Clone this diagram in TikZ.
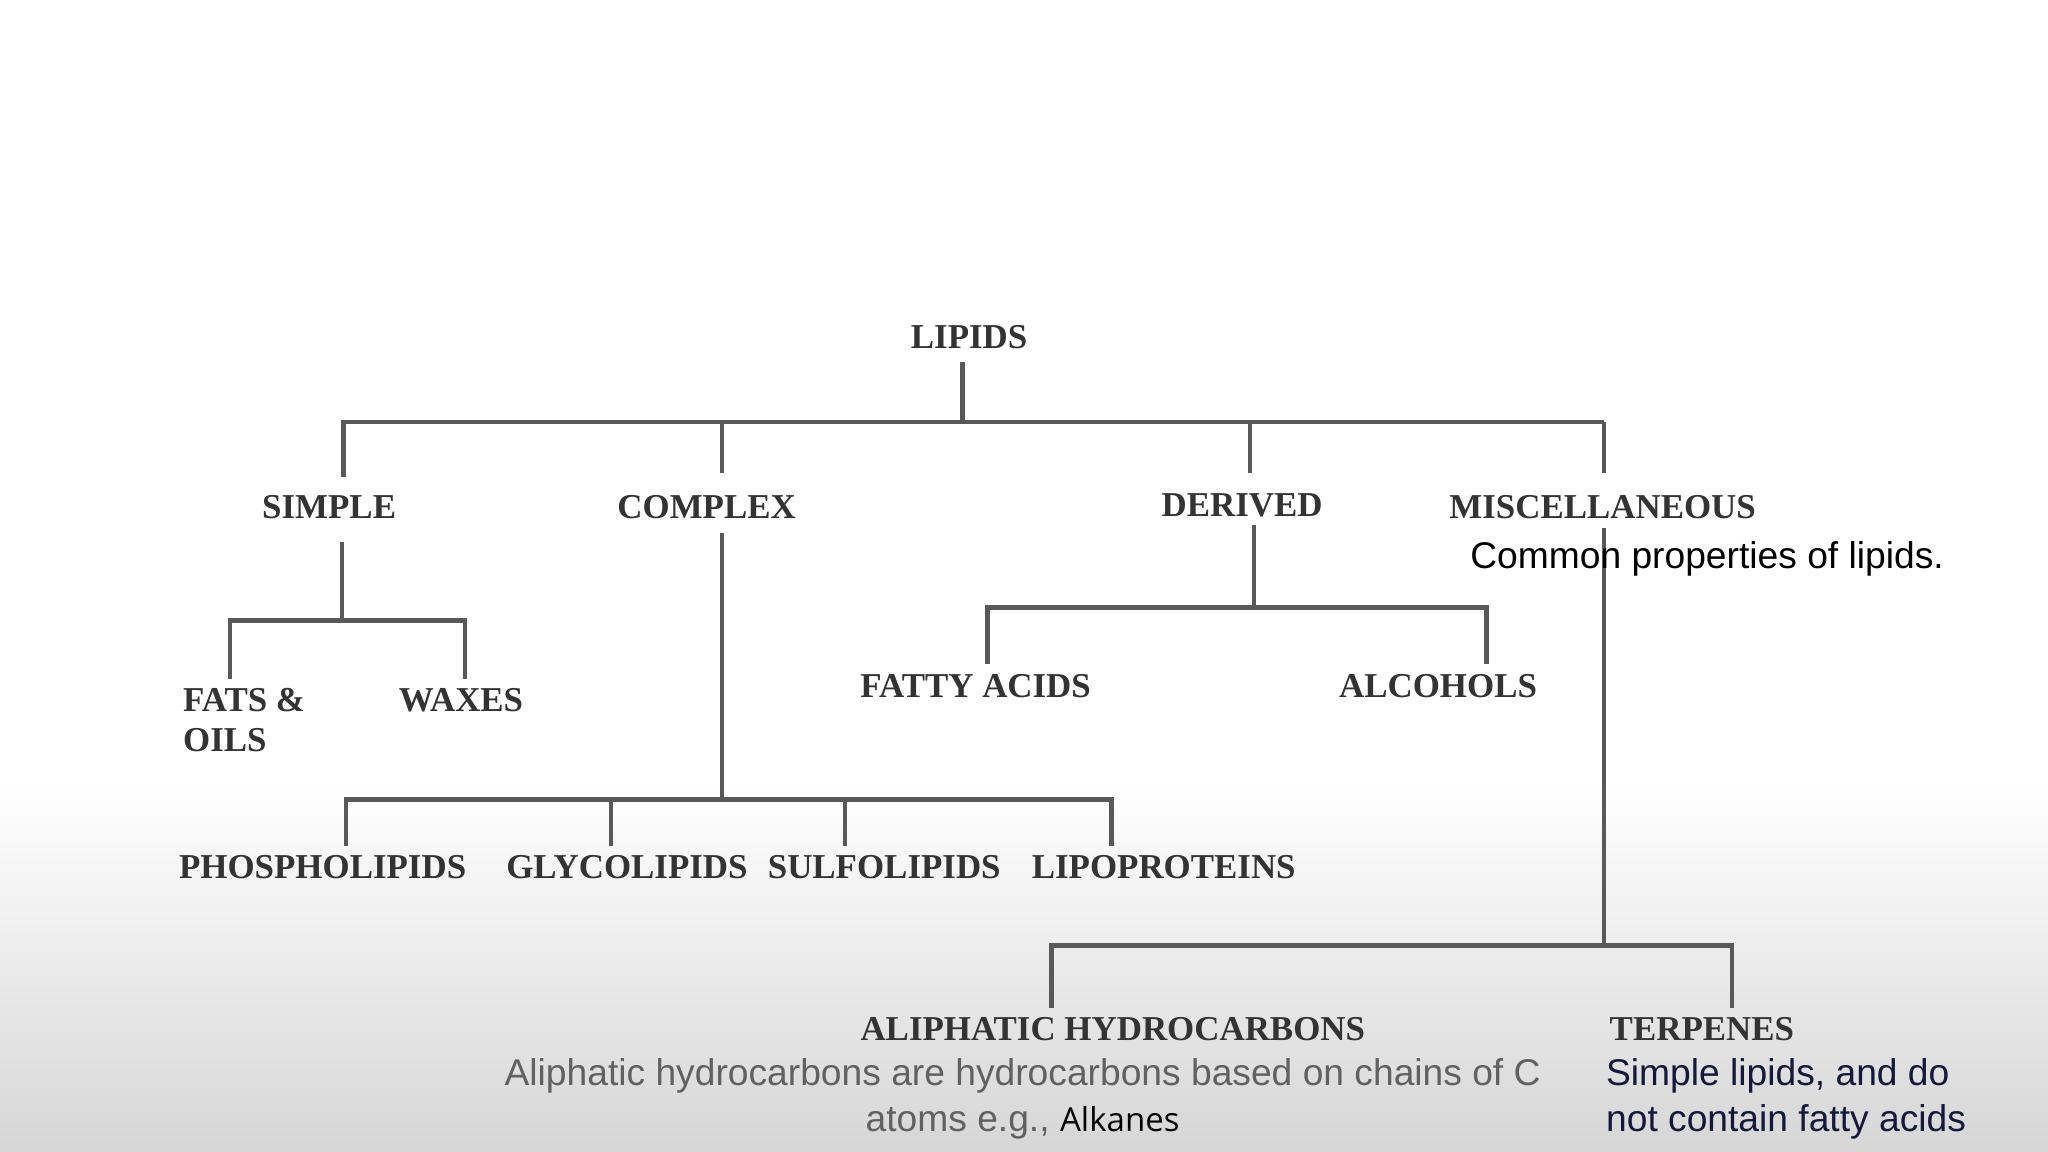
\documentclass[tikz,border=0pt]{standalone}
\usepackage{fontspec}
\setmainfont{Liberation Serif}
\newfontfamily\annot{Liberation Sans}
\newfontfamily\annotb{Open Sans}
\begin{document}
\begin{tikzpicture}[x=0.01cm,y=-0.01cm,
  lbl/.style={font=\bfseries\fontsize{7.6}{8.6}\selectfont, text=black!80, inner sep=1pt},
  ln/.style={draw=black!65, line width=0.95pt}]
\shade[top color=white,bottom color=white] (0,0) rectangle (1568,600);
\shade[top color=white,bottom color=black!16] (0,600) rectangle (1568,882);
\useasboundingbox (0,0) rectangle (1568,882);
\node[lbl] (lip) at (742,258) {LIPIDS};
\node[lbl] (sim) at (252,388) {SIMPLE};
\node[lbl] (com) at (541,388) {COMPLEX};
\node[lbl] (der) at (951,387) {DERIVED};
\node[lbl] (mis) at (1227,388) {MISCELLANEOUS};
\node[lbl,align=left,anchor=north west] (fat) at (136,523) {FATS \&\\[0pt]OILS};
\node[lbl] (wax) at (353,536) {WAXES};
\node[lbl] (pho) at (247,664) {PHOSPHOLIPIDS};
\node[lbl] (gly) at (480,664) {GLYCOLIPIDS};
\node[lbl] (sul) at (677,664) {SULFOLIPIDS};
\node[lbl] (lpp) at (891,664) {LIPOPROTEINS};
\node[lbl] (fac) at (747,525) {FATTY ACIDS};
\node[lbl] (alc) at (1101,525) {ALCOHOLS};
\node[lbl] (ali) at (852,788) {ALIPHATIC HYDROCARBONS};
\node[lbl] (ter) at (1303,788) {TERPENES};
% lipids
\coordinate (j0) at (737,323);
\draw[ln] (737,277) -- (j0);
\draw[ln] (263,365) -- (263,323) -- (1228,323);
\draw[ln] (553,362) -- (553,323);
\draw[ln] (957,362) -- (957,323);
\draw[ln] (1228,362) -- (1228,323);
% simple
\draw[ln] (262,415) -- (262,475);
\draw[ln] (176,520) -- (176,475) -- (356,475) -- (356,520);
% complex
\draw[ln] (553,408) -- (553,612);
\draw[ln] (265,648) -- (265,612) -- (851,612) -- (851,648);
\draw[ln] (468,648) -- (468,612);
\draw[ln] (647,648) -- (647,612);
% derived
\draw[ln] (960,402) -- (960,465);
\draw[ln] (756,508) -- (756,465) -- (1138,465) -- (1138,508);
% misc
\draw[ln] (1228,404) -- (1228,722);
\draw[ln] (805,772) -- (805,724) -- (1326,724) -- (1326,772);
% annotations
\node[anchor=west,inner sep=0,font=\annot\fontsize{8.1}{9}\selectfont] (cp) at (1125,428) {Common properties of lipids.};
\node[align=center,inner sep=0,font=\annot\fontsize{8.1}{10}\selectfont,text=black!62] (at) at (783,841) {Aliphatic hydrocarbons are hydrocarbons based on chains of C\\atoms e.g., {\annotb\fontsize{7.2}{10}\selectfont\color{black}Alkanes}};
\node[anchor=west,align=left,inner sep=0,font=\annot\fontsize{8.1}{10}\selectfont,text={rgb,255:red,20;green,25;blue,60}] (sl) at (1229,841) {Simple lipids, and do\\not contain fatty acids};
\end{tikzpicture}
\end{document}
